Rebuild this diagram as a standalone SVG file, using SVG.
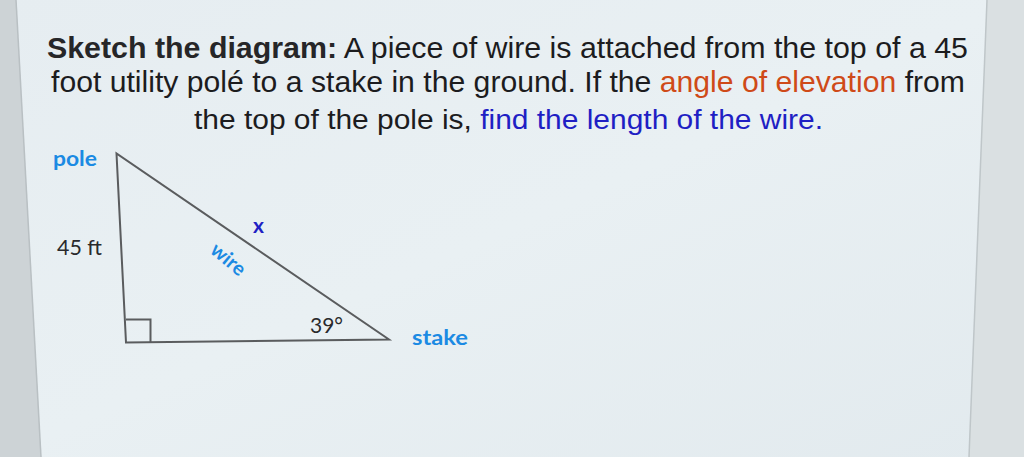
<svg xmlns="http://www.w3.org/2000/svg" width="1024" height="457" viewBox="0 0 1024 457">
  <defs>
    <linearGradient id="page" x1="0" y1="0" x2="1" y2="1">
      <stop offset="0" stop-color="#e6edf1"/>
      <stop offset="0.5" stop-color="#e9f0f3"/>
      <stop offset="1" stop-color="#e2eaee"/>
    </linearGradient>
    <style>
      .main { font-family: "Liberation Sans", Arial, sans-serif; fill: #1c1c1e; }
      .bold { font-weight: bold; fill: #262628; }
      .orange { fill: #cf4a18; }
      .blue { fill: #1f1fc4; }
      .lbl { font-family: Lato, "Open Sans", sans-serif; }
      .lblue { fill: #1b8ae3; }
      .dark { fill: #2a2a2c; }
      .edge { fill: none; stroke: #5a5c5e; stroke-width: 2; stroke-linejoin: miter; }
    </style>
  </defs>

  <g id="background">
    <rect x="0" y="0" width="1024" height="457" fill="url(#page)"/>
    <polygon points="0,0 16,0 41,457 0,457" fill="#cdd3d6"/>
    <line x1="16" y1="0" x2="41" y2="457" stroke="#b9c0c3" stroke-width="1.5"/>
    <polygon points="987,0 1024,0 1024,457 969,457" fill="#dae0e2"/>
    <line x1="987" y1="0" x2="969" y2="457" stroke="#bfc6c9" stroke-width="1.5"/>
  </g>

  <g id="problem-text">
    <text class="main" x="47" y="58" font-size="29" textLength="921" lengthAdjust="spacingAndGlyphs"><tspan class="bold">Sketch the diagram:</tspan> A piece of wire is attached from the top of a 45</text>
    <text class="main" x="51" y="92" font-size="29" textLength="914" lengthAdjust="spacingAndGlyphs">foot utility polé to a stake in the ground. If the <tspan class="orange">angle of elevation</tspan> from</text>
    <text class="main" x="194" y="129" font-size="27.5" textLength="629" lengthAdjust="spacingAndGlyphs">the top of the pole is, <tspan class="blue">find the length of the wire.</tspan></text>
  </g>

  <g id="triangle">
    <polygon class="edge" points="116.5,153.5 126,342.5 389,339.5"/>
    <polyline class="edge" points="126,319.5 150.5,319.5 150.5,342"/>
  </g>

  <g id="label-pole">
    <text class="lbl lblue" x="53" y="166" font-size="20" font-weight="bold" textLength="44" lengthAdjust="spacingAndGlyphs">pole</text>
  </g>
  <g id="label-45ft">
    <text class="lbl dark" x="57" y="255" font-size="21" textLength="45" lengthAdjust="spacingAndGlyphs">45 ft</text>
  </g>
  <g id="label-x">
    <text class="lbl blue" x="253" y="233" font-size="21" font-weight="bold">x</text>
  </g>
  <g id="label-wire">
    <text class="lbl lblue" x="0" y="0" font-size="20" font-weight="bold" transform="translate(209,252) rotate(40)">wire</text>
  </g>
  <g id="label-angle">
    <text class="lbl dark" x="310" y="333" font-size="21" textLength="33" lengthAdjust="spacingAndGlyphs">39°</text>
  </g>
  <g id="label-stake">
    <text class="lbl lblue" x="412" y="345" font-size="21" font-weight="bold" textLength="56" lengthAdjust="spacingAndGlyphs">stake</text>
  </g>
</svg>
